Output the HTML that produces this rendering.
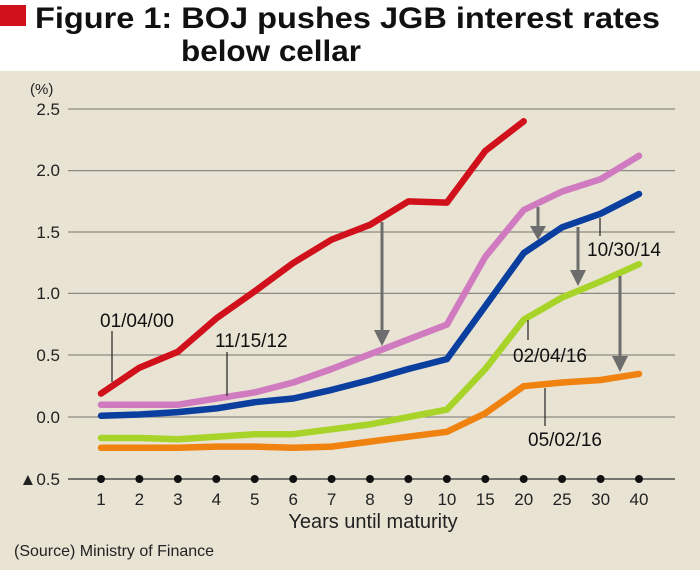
<!DOCTYPE html>
<html><head><meta charset="utf-8"><style>
body{margin:0;width:700px;height:570px;overflow:hidden;background:#fff;}
svg{display:block;font-family:"Liberation Sans",sans-serif;}
</style></head><body>
<svg width="700" height="570" viewBox="0 0 700 570">
<rect x="0" y="71" width="700" height="499" fill="#e9e3d4"/>
<rect x="0" y="5" width="26" height="21" fill="#d0101b"/>
<text x="35" y="28" font-size="30" font-weight="bold" fill="#111" textLength="625" lengthAdjust="spacingAndGlyphs">Figure 1: BOJ pushes JGB interest rates</text>
<text x="181" y="61" font-size="30" font-weight="bold" fill="#111" textLength="180" lengthAdjust="spacingAndGlyphs">below cellar</text>
<g stroke="#8a8a82" stroke-width="1.3">
<line x1="68" y1="109" x2="675" y2="109"/><line x1="68" y1="170.6" x2="675" y2="170.6"/>
<line x1="68" y1="232" x2="675" y2="232"/><line x1="68" y1="293.4" x2="675" y2="293.4"/>
<line x1="68" y1="355" x2="675" y2="355"/><line x1="68" y1="417" x2="675" y2="417"/>
<line x1="68" y1="479" x2="675" y2="479" stroke="#333"/>
</g>
<g font-size="17" fill="#222" text-anchor="end">
<text x="60" y="115">2.5</text><text x="60" y="176">2.0</text><text x="60" y="238">1.5</text>
<text x="60" y="299">1.0</text><text x="60" y="361">0.5</text><text x="60" y="423">0.0</text>
<text x="60" y="485">▲0.5</text>
</g>
<text x="30" y="94" font-size="15" fill="#222">(%)</text>
<g fill="#111">
<circle cx="101" cy="479" r="4"/><circle cx="139.4" cy="479" r="4"/><circle cx="177.9" cy="479" r="4"/><circle cx="216.3" cy="479" r="4"/><circle cx="254.7" cy="479" r="4"/><circle cx="293.2" cy="479" r="4"/><circle cx="331.6" cy="479" r="4"/><circle cx="370" cy="479" r="4"/><circle cx="408.4" cy="479" r="4"/><circle cx="446.9" cy="479" r="4"/><circle cx="485.3" cy="479" r="4"/><circle cx="523.7" cy="479" r="4"/><circle cx="562.1" cy="479" r="4"/><circle cx="600.6" cy="479" r="4"/><circle cx="639" cy="479" r="4"/>
</g>
<g font-size="17" fill="#222" text-anchor="middle">
<text x="101" y="505">1</text><text x="139.4" y="505">2</text><text x="177.9" y="505">3</text><text x="216.3" y="505">4</text><text x="254.7" y="505">5</text><text x="293.2" y="505">6</text><text x="331.6" y="505">7</text><text x="370" y="505">8</text><text x="408.4" y="505">9</text><text x="446.9" y="505">10</text><text x="485.3" y="505">15</text><text x="523.7" y="505">20</text><text x="562.1" y="505">25</text><text x="600.6" y="505">30</text><text x="639" y="505">40</text>
<text x="373" y="528" font-size="20">Years until maturity</text>
</g>
<text x="14" y="556" font-size="16" fill="#222">(Source) Ministry of Finance</text>
<g fill="none" stroke-width="6.5" stroke-linecap="round" stroke-linejoin="round">
<polyline stroke="#f0820f" points="101,447.8 139.4,447.8 177.9,447.8 216.3,446.6 254.7,446.6 293.2,447.8 331.6,446.6 370,441.6 408.4,436.7 446.9,431.8 485.3,413.3 523.7,386.2 562.1,382.5 600.6,380 639,373.9"/>
<polyline stroke="#a8d42a" points="101,438 139.4,438 177.9,439.2 216.3,436.7 254.7,434.2 293.2,434.2 331.6,429.3 370,424.4 408.4,417 446.9,409.6 485.3,369 523.7,319.7 562.1,297.5 600.6,281.5 639,264.2"/>
<polyline stroke="#0a3fa0" points="101,415.8 139.4,414.5 177.9,412.1 216.3,408.4 254.7,402.2 293.2,398.5 331.6,389.9 370,380 408.4,369 446.9,359.1 485.3,306.1 523.7,253.1 562.1,227.3 600.6,213.7 639,194"/>
<polyline stroke="#d07ac0" points="101,404.7 139.4,404.7 177.9,404.7 216.3,398.5 254.7,392.4 293.2,382.5 331.6,369 370,354.2 408.4,339.4 446.9,324.6 485.3,256.8 523.7,210 562.1,191.5 600.6,179.2 639,155.8"/>
<polyline stroke="#d0101b" points="101,393.6 139.4,367.7 177.9,351.7 216.3,318.4 254.7,291.3 293.2,263 331.6,239.6 370,224.8 408.4,201.4 446.9,202.6 485.3,150.9 523.7,121.3"/>
</g>
<g stroke="#6d6d6d" stroke-width="3" fill="#6d6d6d">
<line x1="382" y1="222" x2="382" y2="332"/><polygon points="374,330 390,330 382,346" stroke="none"/>
<line x1="538" y1="207" x2="538" y2="228"/><polygon points="530,226 546,226 538,240" stroke="none"/>
<line x1="578" y1="227" x2="578" y2="272"/><polygon points="570,270 586,270 578,286" stroke="none"/>
<line x1="620" y1="276" x2="620" y2="358"/><polygon points="612,356 628,356 620,372" stroke="none"/>
</g>
<g stroke="#222" stroke-width="1.2">
<line x1="112" y1="331" x2="112" y2="382"/><line x1="227" y1="352" x2="227" y2="396"/>
<line x1="600" y1="218" x2="600" y2="236"/><line x1="528" y1="320" x2="528" y2="340"/>
<line x1="545" y1="388" x2="545" y2="426"/>
</g>
<g font-size="19" fill="#111">
<text x="100" y="327">01/04/00</text><text x="215" y="347">11/15/12</text>
<text x="587" y="256">10/30/14</text><text x="513" y="362">02/04/16</text><text x="528" y="446">05/02/16</text>
</g>
</svg>
</body></html>
